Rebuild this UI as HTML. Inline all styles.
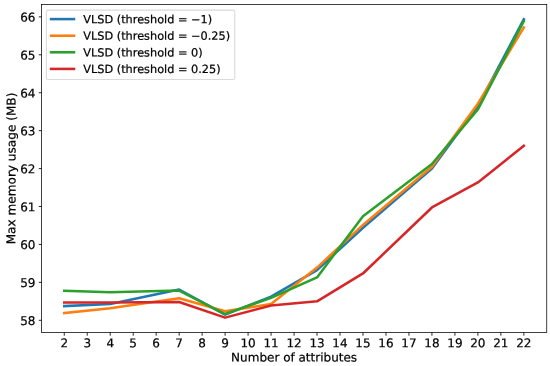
<!DOCTYPE html><html><head><meta charset="utf-8"><style>html,body{margin:0;padding:0;background:#fff;overflow:hidden}svg{display:block}text{font-family:"DejaVu Sans","Liberation Sans",sans-serif;fill:#000;stroke:#000;stroke-width:0.22px}</style></head><body>
<svg width="550" height="366" viewBox="0 0 550 366">
<rect width="550" height="366" fill="#fff"/>
<polyline points="64.25,306.08 110.21,303.99 179.15,289.58 225.11,314.61 271.07,296.59 317.03,270.04 362.99,227.75 431.93,168.58 477.89,106.00 523.85,19.33" fill="none" stroke="#1f77b4" stroke-width="2.55" stroke-linejoin="round" stroke-linecap="square"/>
<polyline points="64.25,313.09 110.21,308.16 179.15,298.30 225.11,311.20 271.07,303.99 317.03,267.58 362.99,224.91 431.93,166.68 477.89,103.72 523.85,27.48" fill="none" stroke="#ff7f0e" stroke-width="2.55" stroke-linejoin="round" stroke-linecap="square"/>
<polyline points="64.25,290.71 110.21,292.23 179.15,290.52 225.11,314.04 271.07,297.92 317.03,277.44 362.99,216.18 431.93,164.03 477.89,109.41 523.85,21.03" fill="none" stroke="#2ca02c" stroke-width="2.55" stroke-linejoin="round" stroke-linecap="square"/>
<polyline points="64.25,302.47 110.21,302.55 179.15,301.98 225.11,317.64 271.07,305.51 317.03,301.34 362.99,273.46 431.93,207.46 477.89,182.42 523.85,145.82" fill="none" stroke="#d62728" stroke-width="2.55" stroke-linejoin="round" stroke-linecap="square"/>
<rect x="41.50" y="4.40" width="505.25" height="328.20" fill="none" stroke="#000" stroke-width="0.75"/>
<line x1="64.25" y1="332.60" x2="64.25" y2="335.70" stroke="#000" stroke-width="0.85"/>
<text x="64.25" y="347.20" font-size="12.0" text-anchor="middle" transform="rotate(0.03 64.25 347.20)">2</text>
<line x1="87.23" y1="332.60" x2="87.23" y2="335.70" stroke="#000" stroke-width="0.85"/>
<text x="87.23" y="347.20" font-size="12.0" text-anchor="middle" transform="rotate(0.03 87.23 347.20)">3</text>
<line x1="110.21" y1="332.60" x2="110.21" y2="335.70" stroke="#000" stroke-width="0.85"/>
<text x="110.21" y="347.20" font-size="12.0" text-anchor="middle" transform="rotate(0.03 110.21 347.20)">4</text>
<line x1="133.19" y1="332.60" x2="133.19" y2="335.70" stroke="#000" stroke-width="0.85"/>
<text x="133.19" y="347.20" font-size="12.0" text-anchor="middle" transform="rotate(0.03 133.19 347.20)">5</text>
<line x1="156.17" y1="332.60" x2="156.17" y2="335.70" stroke="#000" stroke-width="0.85"/>
<text x="156.17" y="347.20" font-size="12.0" text-anchor="middle" transform="rotate(0.03 156.17 347.20)">6</text>
<line x1="179.15" y1="332.60" x2="179.15" y2="335.70" stroke="#000" stroke-width="0.85"/>
<text x="179.15" y="347.20" font-size="12.0" text-anchor="middle" transform="rotate(0.03 179.15 347.20)">7</text>
<line x1="202.13" y1="332.60" x2="202.13" y2="335.70" stroke="#000" stroke-width="0.85"/>
<text x="202.13" y="347.20" font-size="12.0" text-anchor="middle" transform="rotate(0.03 202.13 347.20)">8</text>
<line x1="225.11" y1="332.60" x2="225.11" y2="335.70" stroke="#000" stroke-width="0.85"/>
<text x="225.11" y="347.20" font-size="12.0" text-anchor="middle" transform="rotate(0.03 225.11 347.20)">9</text>
<line x1="248.09" y1="332.60" x2="248.09" y2="335.70" stroke="#000" stroke-width="0.85"/>
<text x="248.09" y="347.20" font-size="12.0" text-anchor="middle" transform="rotate(0.03 248.09 347.20)">10</text>
<line x1="271.07" y1="332.60" x2="271.07" y2="335.70" stroke="#000" stroke-width="0.85"/>
<text x="271.07" y="347.20" font-size="12.0" text-anchor="middle" transform="rotate(0.03 271.07 347.20)">11</text>
<line x1="294.05" y1="332.60" x2="294.05" y2="335.70" stroke="#000" stroke-width="0.85"/>
<text x="294.05" y="347.20" font-size="12.0" text-anchor="middle" transform="rotate(0.03 294.05 347.20)">12</text>
<line x1="317.03" y1="332.60" x2="317.03" y2="335.70" stroke="#000" stroke-width="0.85"/>
<text x="317.03" y="347.20" font-size="12.0" text-anchor="middle" transform="rotate(0.03 317.03 347.20)">13</text>
<line x1="340.01" y1="332.60" x2="340.01" y2="335.70" stroke="#000" stroke-width="0.85"/>
<text x="340.01" y="347.20" font-size="12.0" text-anchor="middle" transform="rotate(0.03 340.01 347.20)">14</text>
<line x1="362.99" y1="332.60" x2="362.99" y2="335.70" stroke="#000" stroke-width="0.85"/>
<text x="362.99" y="347.20" font-size="12.0" text-anchor="middle" transform="rotate(0.03 362.99 347.20)">15</text>
<line x1="385.97" y1="332.60" x2="385.97" y2="335.70" stroke="#000" stroke-width="0.85"/>
<text x="385.97" y="347.20" font-size="12.0" text-anchor="middle" transform="rotate(0.03 385.97 347.20)">16</text>
<line x1="408.95" y1="332.60" x2="408.95" y2="335.70" stroke="#000" stroke-width="0.85"/>
<text x="408.95" y="347.20" font-size="12.0" text-anchor="middle" transform="rotate(0.03 408.95 347.20)">17</text>
<line x1="431.93" y1="332.60" x2="431.93" y2="335.70" stroke="#000" stroke-width="0.85"/>
<text x="431.93" y="347.20" font-size="12.0" text-anchor="middle" transform="rotate(0.03 431.93 347.20)">18</text>
<line x1="454.91" y1="332.60" x2="454.91" y2="335.70" stroke="#000" stroke-width="0.85"/>
<text x="454.91" y="347.20" font-size="12.0" text-anchor="middle" transform="rotate(0.03 454.91 347.20)">19</text>
<line x1="477.89" y1="332.60" x2="477.89" y2="335.70" stroke="#000" stroke-width="0.85"/>
<text x="477.89" y="347.20" font-size="12.0" text-anchor="middle" transform="rotate(0.03 477.89 347.20)">20</text>
<line x1="500.87" y1="332.60" x2="500.87" y2="335.70" stroke="#000" stroke-width="0.85"/>
<text x="500.87" y="347.20" font-size="12.0" text-anchor="middle" transform="rotate(0.03 500.87 347.20)">21</text>
<line x1="523.85" y1="332.60" x2="523.85" y2="335.70" stroke="#000" stroke-width="0.85"/>
<text x="523.85" y="347.20" font-size="12.0" text-anchor="middle" transform="rotate(0.03 523.85 347.20)">22</text>
<line x1="38.80" y1="320.30" x2="41.50" y2="320.30" stroke="#000" stroke-width="0.85"/>
<text x="35.50" y="325.00" font-size="12.0" text-anchor="end" transform="rotate(0.03 35.50 325.00)">58</text>
<line x1="38.80" y1="282.37" x2="41.50" y2="282.37" stroke="#000" stroke-width="0.85"/>
<text x="35.50" y="287.07" font-size="12.0" text-anchor="end" transform="rotate(0.03 35.50 287.07)">59</text>
<line x1="38.80" y1="244.44" x2="41.50" y2="244.44" stroke="#000" stroke-width="0.85"/>
<text x="35.50" y="249.14" font-size="12.0" text-anchor="end" transform="rotate(0.03 35.50 249.14)">60</text>
<line x1="38.80" y1="206.51" x2="41.50" y2="206.51" stroke="#000" stroke-width="0.85"/>
<text x="35.50" y="211.21" font-size="12.0" text-anchor="end" transform="rotate(0.03 35.50 211.21)">61</text>
<line x1="38.80" y1="168.58" x2="41.50" y2="168.58" stroke="#000" stroke-width="0.85"/>
<text x="35.50" y="173.28" font-size="12.0" text-anchor="end" transform="rotate(0.03 35.50 173.28)">62</text>
<line x1="38.80" y1="130.65" x2="41.50" y2="130.65" stroke="#000" stroke-width="0.85"/>
<text x="35.50" y="135.35" font-size="12.0" text-anchor="end" transform="rotate(0.03 35.50 135.35)">63</text>
<line x1="38.80" y1="92.72" x2="41.50" y2="92.72" stroke="#000" stroke-width="0.85"/>
<text x="35.50" y="97.42" font-size="12.0" text-anchor="end" transform="rotate(0.03 35.50 97.42)">64</text>
<line x1="38.80" y1="54.79" x2="41.50" y2="54.79" stroke="#000" stroke-width="0.85"/>
<text x="35.50" y="59.49" font-size="12.0" text-anchor="end" transform="rotate(0.03 35.50 59.49)">65</text>
<line x1="38.80" y1="16.86" x2="41.50" y2="16.86" stroke="#000" stroke-width="0.85"/>
<text x="35.50" y="21.56" font-size="12.0" text-anchor="end" transform="rotate(0.03 35.50 21.56)">66</text>
<text x="294.12" y="361.60" font-size="12.0" text-anchor="middle" transform="rotate(0.03 294.12 361.60)">Number of attributes</text>
<text transform="translate(15.40,168.50) rotate(-89.97)" font-size="12.1" text-anchor="middle">Max memory usage (MB)</text>
<rect x="46.40" y="10.10" width="188.40" height="69.40" rx="1.8" ry="1.8" fill="#fff" fill-opacity="0.8" stroke="#dadada" stroke-width="1.1"/>
<line x1="51.10" y1="19.10" x2="74.00" y2="19.10" stroke="#1f77b4" stroke-width="2.55" stroke-linecap="square"/>
<text x="83.30" y="23.20" font-size="11.3" transform="rotate(0.03 83.30 23.20)">VLSD (threshold = −1)</text>
<line x1="51.10" y1="35.70" x2="74.00" y2="35.70" stroke="#ff7f0e" stroke-width="2.55" stroke-linecap="square"/>
<text x="83.30" y="39.80" font-size="11.3" transform="rotate(0.03 83.30 39.80)">VLSD (threshold = −0.25)</text>
<line x1="51.10" y1="52.30" x2="74.00" y2="52.30" stroke="#2ca02c" stroke-width="2.55" stroke-linecap="square"/>
<text x="83.30" y="56.40" font-size="11.3" transform="rotate(0.03 83.30 56.40)">VLSD (threshold = 0)</text>
<line x1="51.10" y1="68.90" x2="74.00" y2="68.90" stroke="#d62728" stroke-width="2.55" stroke-linecap="square"/>
<text x="83.30" y="73.00" font-size="11.3" transform="rotate(0.03 83.30 73.00)">VLSD (threshold = 0.25)</text>
</svg></body></html>
